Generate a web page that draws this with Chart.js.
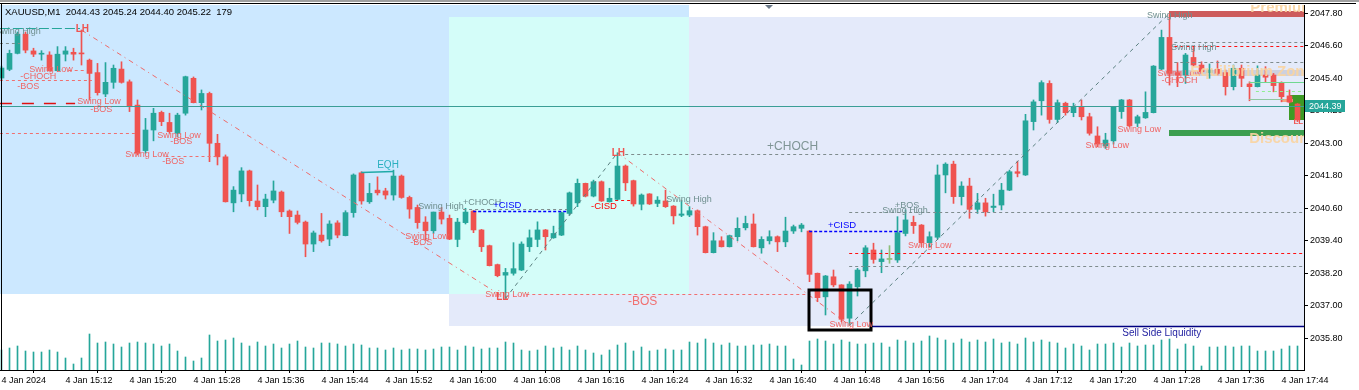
<!DOCTYPE html>
<html>
<head>
<meta charset="utf-8">
<script src="https://cdn.jsdelivr.net/npm/chart.js@4.4.1/dist/chart.umd.min.js"></script>
<style>
  html, body { margin: 0; padding: 0; background: #fff; }
</style>
</head>
<body>
<canvas id="chart" width="1359" height="390"></canvas>
<script>
// XAUUSD M1, 4 Jan 2024 15:04 .. 17:46, one entry per minute
const opens = [2045.41,2045.73,2046.32,2047.03,2046.41,2046.29,2046.26,2045.68,2046.29,2046.36,2046.33,2046.07,2045.61,2044.82,2045.25,2045.74,2045.27,2044.41,2042.73,2043.49,2044.14,2043.77,2043.37,2044.11,2045.40,2044.50,2044.84,2043.00,2042.50,2040.80,2041.13,2041.98,2040.87,2040.66,2040.90,2041.20,2040.50,2040.35,2040.09,2039.28,2039.61,2039.46,2040.06,2039.59,2040.44,2041.91,2040.84,2041.27,2041.24,2041.09,2041.79,2041.00,2040.63,2040.09,2039.77,2040.46,2040.23,2039.45,2040.07,2040.50,2039.80,2039.22,2038.52,2038.13,2038.20,2038.32,2039.18,2039.45,2039.80,2039.51,2039.61,2040.41,2040.80,2041.52,2041.05,2041.58,2040.84,2040.93,2042.16,2041.62,2040.75,2041.13,2040.78,2040.87,2040.68,2040.34,2040.35,2040.51,2039.92,2038.96,2039.40,2039.18,2039.55,2039.88,2040.02,2039.14,2039.40,2039.55,2039.36,2039.76,2039.86,2039.76,2038.20,2037.33,2038.07,2037.77,2036.54,2037.70,2038.29,2039.06,2038.63,2038.71,2038.69,2039.67,2040.08,2039.98,2039.33,2039.53,2041.83,2042.23,2041.03,2041.42,2040.56,2040.80,2040.63,2040.72,2041.27,2041.95,2041.83,2043.80,2044.57,2045.21,2043.88,2044.48,2044.13,2044.33,2043.98,2043.27,2042.90,2043.09,2044.17,2044.60,2043.74,2043.94,2044.13,2045.74,2046.91,2045.61,2045.52,2046.17,2045.89,2045.61,2045.73,2045.61,2045.09,2045.77,2045.19,2045.09,2045.52,2045.52,2045.25,2044.75,2044.45];
const highs = [2045.85,2046.44,2047.11,2047.11,2046.51,2046.42,2046.38,2046.57,2046.57,2046.51,2047.18,2046.11,2045.95,2045.98,2045.89,2046.01,2045.34,2044.60,2043.92,2044.29,2044.19,2044.11,2044.11,2045.48,2045.45,2044.97,2044.89,2043.33,2042.57,2041.40,2042.10,2042.01,2041.46,2041.12,2041.61,2041.24,2040.54,2040.50,2040.13,2039.76,2040.41,2040.14,2040.14,2040.51,2041.87,2041.95,2041.52,2041.76,2041.34,2042.01,2041.83,2041.05,2040.72,2040.29,2040.46,2040.63,2040.35,2040.23,2040.60,2040.52,2039.82,2039.24,2038.54,2038.38,2039.33,2039.36,2039.80,2040.10,2039.82,2039.94,2040.46,2041.20,2041.68,2041.53,2041.64,2041.61,2041.34,2042.65,2042.20,2041.64,2041.13,2041.14,2041.03,2041.27,2040.70,2040.90,2040.66,2040.54,2039.94,2039.70,2039.55,2039.61,2040.25,2040.31,2040.39,2039.55,2039.77,2039.58,2040.27,2039.98,2040.04,2039.78,2038.21,2038.12,2038.32,2037.78,2037.89,2038.38,2039.22,2039.31,2039.06,2039.22,2040.29,2040.54,2040.31,2040.00,2039.73,2042.20,2042.28,2042.34,2041.58,2041.71,2041.15,2040.97,2041.12,2041.52,2042.01,2042.34,2044.07,2044.60,2045.31,2045.31,2044.60,2044.52,2044.48,2044.60,2044.11,2043.61,2043.37,2044.34,2044.62,2044.62,2044.04,2044.90,2045.87,2047.18,2047.80,2045.98,2046.32,2046.54,2046.01,2045.93,2046.04,2045.71,2045.89,2045.89,2045.27,2045.86,2045.83,2045.58,2045.27,2044.97,2044.47];
const lows = [2045.34,2045.68,2046.30,2046.34,2046.20,2046.07,2045.67,2045.67,2046.04,2046.07,2045.89,2044.60,2044.78,2044.72,2045.03,2045.22,2044.17,2042.57,2042.63,2043.09,2043.65,2043.37,2043.24,2044.04,2044.49,2044.23,2042.32,2042.20,2040.83,2040.47,2040.84,2040.68,2040.54,2040.29,2040.80,2040.29,2039.67,2040.02,2038.81,2039.00,2039.35,2039.22,2039.51,2039.58,2040.27,2040.75,2040.78,2041.09,2040.94,2040.90,2040.97,2040.23,2039.86,2039.43,2039.67,2040.02,2039.44,2039.18,2040.02,2039.70,2039.00,2038.47,2038.07,2037.27,2038.13,2038.30,2039.00,2039.18,2039.06,2039.49,2039.59,2040.35,2040.66,2041.02,2041.02,2040.85,2040.83,2040.90,2041.25,2040.68,2040.54,2040.74,2040.66,2040.63,2040.02,2040.29,2040.29,2039.61,2038.95,2038.95,2039.17,2039.17,2039.40,2039.80,2039.17,2038.94,2039.28,2039.00,2039.18,2039.67,2039.73,2037.89,2037.15,2036.66,2037.70,2036.41,2036.28,2037.36,2038.07,2038.57,2038.22,2038.57,2038.60,2039.58,2039.67,2039.18,2039.18,2039.46,2041.17,2040.78,2040.72,2040.23,2040.41,2040.31,2040.47,2040.54,2041.25,2041.76,2041.81,2043.49,2044.04,2043.74,2043.76,2044.04,2043.98,2043.86,2043.30,2042.87,2042.81,2042.97,2043.92,2043.61,2043.61,2043.92,2044.12,2045.72,2045.15,2045.09,2045.21,2045.83,2045.58,2045.40,2045.52,2044.78,2044.97,2045.09,2044.57,2045.08,2045.27,2044.90,2044.53,2044.49,2043.80];
const closes = [2045.78,2046.32,2047.03,2046.44,2046.29,2046.32,2045.68,2046.29,2046.41,2046.29,2046.30,2045.58,2044.87,2045.25,2045.77,2045.25,2044.35,2042.63,2043.49,2044.11,2043.80,2043.43,2044.04,2045.46,2044.50,2044.84,2043.00,2042.50,2040.84,2041.27,2041.98,2040.88,2040.66,2040.94,2041.24,2040.47,2040.29,2040.08,2039.28,2039.69,2039.40,2040.02,2039.61,2040.44,2041.83,2040.87,2041.15,2041.17,2041.09,2041.79,2041.00,2040.57,2040.07,2039.77,2040.46,2040.20,2039.46,2040.09,2040.46,2039.80,2039.18,2038.48,2038.11,2038.23,2038.37,2039.28,2039.51,2039.80,2039.55,2039.67,2040.44,2041.17,2041.52,2041.05,2041.58,2040.87,2040.97,2042.16,2041.54,2040.76,2041.09,2040.76,2040.90,2040.66,2040.32,2040.39,2040.51,2039.92,2038.96,2039.40,2039.18,2039.59,2039.86,2040.04,2039.18,2039.45,2039.55,2039.36,2039.76,2039.92,2039.98,2038.16,2037.30,2038.10,2037.77,2036.50,2037.80,2038.32,2039.14,2038.71,2038.73,2038.71,2039.70,2040.17,2039.96,2039.33,2039.55,2041.83,2042.23,2041.03,2041.42,2040.56,2040.80,2040.47,2040.68,2041.27,2041.95,2041.89,2043.83,2044.53,2045.24,2043.88,2044.50,2044.13,2044.33,2043.98,2043.37,2042.97,2043.12,2044.33,2044.60,2043.64,2043.98,2044.14,2045.85,2046.91,2045.58,2045.52,2046.26,2045.89,2045.64,2045.71,2045.58,2045.09,2045.77,2045.40,2045.09,2045.52,2045.44,2045.13,2044.72,2044.52,2043.86];
const volumes = [60,66,72,57,54,54,60,54,36,18,36,108,81,84,78,69,81,84,81,78,72,78,57,39,27,36,105,87,90,96,81,72,84,72,78,66,78,87,69,66,81,81,78,72,78,75,66,66,60,66,60,63,63,60,63,69,69,60,72,69,63,66,66,84,81,60,57,60,72,66,69,60,72,60,51,45,60,75,81,57,69,57,60,63,60,60,84,81,93,81,75,81,72,72,75,75,78,72,72,33,15,87,93,87,78,90,84,78,78,81,81,69,90,87,81,87,102,96,90,81,93,84,90,84,93,81,84,78,96,84,90,84,81,66,78,72,60,78,78,81,69,81,72,75,75,90,93,63,78,72,12,69,69,72,69,72,72,57,57,57,63,72,72];

const timeTickIdx = [0,8,16,24,32,40,48,56,64,72,80,88,96,104,112,120,128,136,144,152,160];
const timeTickLabels = ['4 Jan 2024','4 Jan 15:12','4 Jan 15:20','4 Jan 15:28','4 Jan 15:36','4 Jan 15:44','4 Jan 15:52','4 Jan 16:00','4 Jan 16:08','4 Jan 16:16','4 Jan 16:24','4 Jan 16:32','4 Jan 16:40','4 Jan 16:48','4 Jan 16:56','4 Jan 17:04','4 Jan 17:12','4 Jan 17:20','4 Jan 17:28','4 Jan 17:36','4 Jan 17:44'];
const priceTicks = [2035.80,2037.00,2038.20,2039.40,2040.60,2041.80,2043.00,2044.20,2045.40,2046.60,2047.80];
const bid = 2044.39;
const header = 'XAUUSD,M1  2044.43 2045.24 2044.40 2045.22  179';

// indicator objects, in bar index / price units
const zones = [
  [-0.19, 2048.2, 85.96, 2037.43, 'blue'],
  [55.96, 2047.66, 162.84, 2036.25, 'lavender'],
  [55.96, 2047.66, 85.96, 2037.43, 'cyan'],
  [145.96, 2047.88, 162.84, 2047.65, 'premium'],
  [145.96, 2043.49, 162.84, 2043.28, 'discount'],
  [145.46, 2045.70, 162.84, 2045.50, 'eq'],
  [160.96, 2044.78, 162.84, 2043.86, 'ob'],
  [159.96, 2044.62, 161.4, 2044.52, 'salmon']
];
const focusBox = [100.96, 2037.58, 108.7, 2036.10];
const pivots = [[10, 'H'], [63, 'L'], [77, 'H'], [106, 'L'], [146, 'H']];
const levels = [
  [-0.2, 2047.26, 9.8, 2047.26, 'teal'],
  [-0.2, 2046.70, 2.3, 2046.70, 'grey'],
  [8.4, 2045.71, 10.5, 2045.71, 'red'],
  [-0.2, 2045.34, 11.3, 2045.34, 'red'],
  [-0.2, 2044.49, 9.2, 2044.49, 'redLong'],
  [-0.2, 2043.38, 16.7, 2043.38, 'red'],
  [20.5, 2042.53, 27.1, 2042.53, 'red'],
  [57.7, 2040.57, 70.7, 2040.57, 'grey'],
  [58.96, 2040.50, 70.7, 2040.50, 'blue'],
  [65.6, 2037.43, 101.1, 2037.43, 'red'],
  [77.96, 2042.60, 127.5, 2042.60, 'grey'],
  [76.7, 2040.90, 78.6, 2040.90, 'redStrong'],
  [100.96, 2039.76, 112.7, 2039.76, 'blue'],
  [105.96, 2040.45, 162.84, 2040.45, 'grey'],
  [105.96, 2038.94, 162.84, 2038.94, 'redStrong'],
  [105.96, 2038.47, 162.84, 2038.47, 'grey'],
  [108.7, 2036.25, 162.84, 2036.25, 'navy'],
  [146.6, 2046.73, 162.84, 2046.73, 'grey'],
  [146.6, 2046.60, 162.84, 2046.60, 'redStrong'],
  [146.6, 2046.00, 162.84, 2046.00, 'grey'],
  [155.96, 2045.26, 162.84, 2045.26, 'green'],
  [156.8, 2044.94, 162.84, 2044.94, 'greenDash'],
  [155.96, 2044.63, 160.3, 2044.63, 'greenGrey'],
  [44.96, 2041.94, 48.96, 2041.97, 'eqh']
];
const marks = [
  ['Swing High', -0.79, 2047.11, 'grey'],
  ['LH', 10.1, 2047.22, 'tag'],
  ['Swing Low', 3.46, 2045.71, 'red'],
  ['-CHOCH', 2.34, 2045.45, 'red'],
  ['-BOS', 1.96, 2045.08, 'red'],
  ['Swing Low', 9.46, 2044.56, 'red'],
  ['-BOS', 11.09, 2044.23, 'red'],
  ['Swing Low', 19.46, 2043.30, 'red'],
  ['-BOS', 21.09, 2043.05, 'red'],
  ['Swing Low', 15.46, 2042.57, 'red'],
  ['-BOS', 20.09, 2042.31, 'red'],
  ['EQH', 46.96, 2042.20, 'eqh'],
  ['Swing Low', 50.46, 2039.57, 'red'],
  ['-BOS', 51.09, 2039.32, 'red'],
  ['Swing High', 52.09, 2040.65, 'grey'],
  ['+CHOCH', 57.7, 2040.83, 'grey'],
  ['+CISD', 61.46, 2040.72, 'blue'],
  ['Swing Low', 60.46, 2037.43, 'red'],
  ['LL', 62.6, 2037.32, 'tag'],
  ['-BOS', 78.3, 2037.14, 'redBig'],
  ['LH', 77.1, 2042.62, 'tag'],
  ['+CHOCH', 95.7, 2042.86, 'greyBig'],
  ['-CISD', 73.7, 2040.68, 'cisd'],
  ['Swing High', 83.1, 2040.94, 'grey'],
  ['+CISD', 103.3, 2039.98, 'blue'],
  ['+BOS', 111.7, 2040.72, 'grey'],
  ['Swing High', 110.1, 2040.53, 'grey'],
  ['Swing Low', 113.3, 2039.21, 'red'],
  ['Swing Low', 103.5, 2036.29, 'red'],
  ['Sell Side Liquidity', 140.1, 2035.99, 'navy'],
  ['Swing Low', 135.5, 2042.90, 'red'],
  ['Swing Low', 139.5, 2043.49, 'red'],
  ['Swing High', 143.2, 2047.70, 'grey'],
  ['Swing High', 146.2, 2046.52, 'grey'],
  ['Swing Low', 144.5, 2045.56, 'red'],
  ['-CHOCH', 145.0, 2045.30, 'red'],
  ['Premium', 156.1, 2047.99, 'zone'],
  ['Equilibrium Zone', 148.6, 2045.63, 'zone'],
  ['Discount', 155.96, 2043.16, 'zone'],
  ['LL', 162.1, 2043.79, 'tagSmall']
];

const FF = "'Liberation Sans', Arial, sans-serif";
const TEAL = '#26a69a', RED = '#ef5350', DOJI = '#8cbf7a';

const zoneFill = {
  blue: '#cce8ff', lavender: '#e4eafa', cyan: '#d4fdf9', premium: '#cd5c5c',
  discount: '#3c9e4f', eq: 'rgba(185,185,200,0.55)', ob: '#3d9a24', salmon: '#f4a582'
};
const lineStyle = {
  teal: ['#26a69a', [10, 3], 1], grey: ['#7f8c8d', [3, 3], 1], red: ['#f07070', [3, 3], 1],
  redLong: ['#e01010', [12, 10], 1.5], blue: ['#0000ff', [3, 2], 1.5], redStrong: ['#ff1010', [3, 3], 1],
  navy: ['#000080', [], 1.5], green: ['#70d890', [], 1], greenDash: ['#90ee90', [3, 3], 1],
  greenGrey: ['#90c8a0', [], 1], eqh: ['#20aaa8', [], 1.5]
};
const markStyle = {
  red: ['#f06464', '9px'], grey: ['#6f8f8f', '9px'], blue: ['#0000ff', '9.5px'], cisd: ['#ff0000', '9.5px'],
  tag: ['#ef5350', 'bold 10px'], tagSmall: ['#ef5350', 'bold 8px'], eqh: ['#2ab0c0', '10px'],
  redBig: ['#f07070', '12px'], greyBig: ['#7f9595', '12px'], navy: ['#1f1fa0', '10px'],
  zone: ['rgba(250,212,160,0.9)', 'bold 15px']
};

const candleColors = opens.map((o, i) => closes[i] > o ? TEAL : (closes[i] < o ? RED : DOJI));

const overlay = {
  id: 'overlay',
  beforeDatasetsDraw(chart) {
    const {ctx, chartArea: a, scales: {x, y}} = chart;
    ctx.save();
    ctx.beginPath();
    ctx.rect(a.left, a.top, a.right - a.left, a.bottom - a.top);
    ctx.clip();
    zones.forEach(([i0, p0, i1, p1, kind]) => {
      const x0 = Math.round(x.getPixelForValue(i0)), x1 = Math.round(x.getPixelForValue(i1));
      const y0 = Math.round(y.getPixelForValue(p0)), y1 = Math.round(y.getPixelForValue(p1));
      ctx.fillStyle = zoneFill[kind];
      ctx.fillRect(x0, y0, x1 - x0, y1 - y0);
    });
    ctx.restore();
  },
  afterDatasetsDraw(chart) {
    const {ctx, chartArea: a, scales: {x, y}} = chart;
    ctx.save();
    ctx.beginPath();
    ctx.rect(a.left, a.top, a.right - a.left, a.bottom - a.top);
    ctx.clip();

    // zigzag between swing points
    for (let n = 0; n < pivots.length - 1; n++) {
      const [i0, t0] = pivots[n], [i1, t1] = pivots[n + 1];
      const p0 = t0 === 'H' ? highs[i0] : lows[i0];
      const p1 = t1 === 'H' ? highs[i1] : lows[i1];
      ctx.strokeStyle = t0 === 'H' ? '#ef6a6a' : '#5a8080';
      ctx.setLineDash(t0 === 'H' ? [5, 4, 1, 4] : [4, 4]);
      ctx.lineWidth = 1;
      ctx.beginPath();
      ctx.moveTo(x.getPixelForValue(i0), y.getPixelForValue(p0));
      ctx.lineTo(x.getPixelForValue(i1), y.getPixelForValue(p1));
      ctx.stroke();
    }

    levels.forEach(([i0, p0, i1, p1, kind]) => {
      const [c, dash, w] = lineStyle[kind];
      ctx.strokeStyle = c;
      ctx.setLineDash(dash);
      ctx.lineWidth = w;
      ctx.beginPath();
      ctx.moveTo(x.getPixelForValue(i0), Math.round(y.getPixelForValue(p0)) + 0.5);
      ctx.lineTo(x.getPixelForValue(i1), Math.round(y.getPixelForValue(p1)) + 0.5);
      ctx.stroke();
    });
    ctx.setLineDash([]);

    // current price line
    const by = Math.round(y.getPixelForValue(bid)) + 0.5;
    ctx.strokeStyle = '#3a9e96';
    ctx.lineWidth = 1;
    ctx.beginPath();
    ctx.moveTo(a.left, by);
    ctx.lineTo(a.right, by);
    ctx.stroke();

    // highlighted box
    const [b0, q0, b1, q1] = focusBox;
    ctx.strokeStyle = '#000';
    ctx.lineWidth = 3;
    ctx.strokeRect(Math.round(x.getPixelForValue(b0)), Math.round(y.getPixelForValue(q0)),
      Math.round(x.getPixelForValue(b1) - x.getPixelForValue(b0)), Math.round(y.getPixelForValue(q1) - y.getPixelForValue(q0)));

    ctx.textBaseline = 'middle';
    marks.forEach(([s, i, p, kind]) => {
      const [c, f] = markStyle[kind];
      ctx.fillStyle = c;
      ctx.font = f + ' ' + FF;
      ctx.textAlign = kind.startsWith('tag') ? 'center' : 'left';
      ctx.fillText(s, x.getPixelForValue(i), y.getPixelForValue(p));
    });
    ctx.restore();

    // frame, header, bid tag
    ctx.save();
    ctx.fillStyle = '#a0a0a0';
    ctx.fillRect(0, 0, 1359, 2);
    ctx.fillStyle = '#000';
    ctx.fillRect(0, 3, 1356, 1);
    ctx.fillRect(1, 3, 1, a.bottom - 3);
    ctx.fillStyle = '#6c7a89';
    ctx.beginPath();
    ctx.moveTo(765, 5); ctx.lineTo(773, 5); ctx.lineTo(769, 9); ctx.closePath();
    ctx.fill();
    ctx.fillStyle = '#000';
    ctx.font = '9.5px ' + FF;
    ctx.textAlign = 'left';
    ctx.textBaseline = 'middle';
    ctx.fillText(header, 5, 12);
    ctx.fillStyle = '#26a69a';
    ctx.fillRect(a.right + 1, by - 6.5, 40, 12);
    ctx.fillStyle = '#fff';
    ctx.font = '9px ' + FF;
    ctx.fillText(bid.toFixed(2), a.right + 5, by);
    ctx.restore();
  }
};

const ctx = document.getElementById('chart').getContext('2d');
new Chart(ctx, {
  type: 'bar',
  data: {
    datasets: [
      {
        label: 'Volume',
        yAxisID: 'yv',
        data: volumes.map((v, i) => ({x: i, y: v})),
        backgroundColor: TEAL,
        barThickness: 1,
        grouped: false,
        order: 3
      },
      {
        label: 'Wick',
        yAxisID: 'y',
        data: opens.map((_, i) => ({x: i, y: [lows[i], highs[i]]})),
        backgroundColor: candleColors,
        barThickness: 1,
        grouped: false,
        order: 2
      },
      {
        label: 'Body',
        yAxisID: 'y',
        data: opens.map((o, i) => ({x: i, y: [o, closes[i]]})),
        backgroundColor: candleColors,
        barThickness: 5,
        minBarLength: 1,
        grouped: false,
        order: 1
      }
    ]
  },
  options: {
    responsive: false,
    animation: false,
    devicePixelRatio: 1,
    events: [],
    layout: { padding: { top: 5, left: 0, right: 0, bottom: 0 } },
    font: { family: FF, size: 9 },
    plugins: { legend: { display: false }, tooltip: { enabled: false } },
    scales: {
      x: {
        type: 'linear',
        min: -0.1875,
        max: 162.8125,
        offset: false,
        grid: { drawOnChartArea: false, color: '#000', tickLength: 3 },
        border: { color: '#000' },
        afterBuildTicks: s => { s.ticks = timeTickIdx.map(v => ({value: v})); },
        afterFit: s => { s.height = 20; s.paddingLeft = 0; s.paddingRight = 0; },
        ticks: {
          autoSkip: false, maxRotation: 0, align: 'start', padding: 2, color: '#000',
          font: { family: FF, size: 9 },
          callback: (v, i) => timeTickLabels[i]
        }
      },
      y: {
        position: 'right',
        min: 2034.628,
        max: 2048.1065,
        grid: { drawOnChartArea: false, color: '#000', tickLength: 4 },
        border: { color: '#000' },
        afterBuildTicks: s => { s.ticks = priceTicks.map(v => ({value: v})); },
        afterFit: s => { s.width = 55; s.paddingTop = 0; s.paddingBottom = 0; },
        ticks: { padding: 2, color: '#000', font: { family: FF, size: 9 }, callback: v => v.toFixed(2) }
      },
      yv: { display: false, min: 0, max: 1095 }
    }
  },
  plugins: [overlay]
});
</script>
</body>
</html>
